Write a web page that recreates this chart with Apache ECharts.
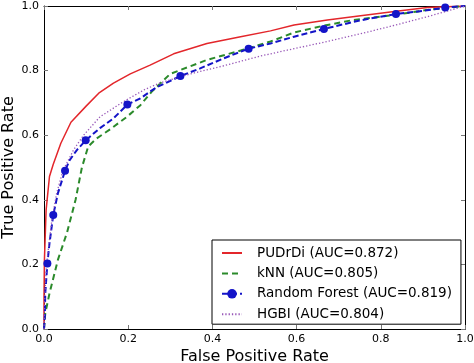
<!DOCTYPE html>
<html>
<head>
<meta charset="utf-8">
<script src="https://cdn.jsdelivr.net/npm/echarts@6/dist/echarts.min.js"></script>
<style>
html,body{margin:0;padding:0;background:#fff;}
#chart{width:474px;height:363px;}
</style>
</head>
<body>
<div id="chart"></div>
<script>
const seriesNames = ['PUDrDi (AUC=0.872)', 'kNN (AUC=0.805)', 'Random Forest (AUC=0.819)', 'HGBI (AUC=0.804)'];
const xTitle = 'False Positive Rate';
const yTitle = 'True Positive Rate';

const pudrdi = [[0,0],[0.0,0.1],[0.001,0.214],[0.005,0.368],[0.013,0.472],[0.022,0.51],[0.04,0.575],[0.064,0.64],[0.1,0.69],[0.13,0.73],[0.165,0.761],[0.205,0.79],[0.252,0.817],[0.308,0.852],[0.387,0.884],[0.467,0.905],[0.538,0.923],[0.594,0.941],[0.673,0.957],[0.752,0.97],[0.832,0.983],[0.911,0.995],[1,1]];
const knn = [[0,0],[0.003,0.048],[0.013,0.11],[0.033,0.214],[0.055,0.3],[0.075,0.4],[0.09,0.5],[0.105,0.565],[0.125,0.59],[0.157,0.618],[0.197,0.657],[0.229,0.693],[0.256,0.735],[0.3,0.79],[0.387,0.833],[0.467,0.862],[0.538,0.89],[0.594,0.918],[0.657,0.937],[0.736,0.957],[0.832,0.972],[0.911,0.988],[1,1]];
const rf = [[0,0],[0.002,0.04],[0.003,0.11],[0.008,0.203],[0.013,0.265],[0.022,0.353],[0.033,0.42],[0.05,0.49],[0.061,0.523],[0.078,0.554],[0.099,0.584],[0.133,0.622],[0.165,0.652],[0.198,0.695],[0.229,0.714],[0.252,0.735],[0.27,0.75],[0.324,0.783],[0.371,0.807],[0.427,0.838],[0.486,0.868],[0.538,0.884],[0.594,0.905],[0.665,0.929],[0.736,0.951],[0.776,0.962],[0.836,0.975],[0.9,0.985],[0.953,0.995],[1,1]];
const rfMarkerIdx = [3,5,7,10,13,17,20,23,26,28];
const hgbi = [[0,0],[0.002,0.1],[0.006,0.2],[0.018,0.33],[0.03,0.42],[0.045,0.49],[0.07,0.554],[0.094,0.6],[0.133,0.657],[0.189,0.704],[0.24,0.742],[0.276,0.762],[0.348,0.79],[0.427,0.815],[0.514,0.845],[0.594,0.868],[0.673,0.89],[0.752,0.914],[0.832,0.94],[0.911,0.967],[1,1]];

const FONT = 'DejaVu Sans';
const chart = echarts.init(document.getElementById('chart'), null, {renderer:'canvas'});

function axisBase(pos, showLabel){
  return {
    type:'value', min:0, max:1, interval:0.2, position:pos,
    axisLine:{show:true, onZero:false, lineStyle:{color:'#000', width:1}},
    axisTick:{show:true, inside:true, length:4, lineStyle:{color:'#777', width:1}},
    splitLine:{show:false},
    axisLabel:{show:showLabel, formatter:v=>v.toFixed(1), fontSize:11, fontFamily:FONT, color:'#000', margin:5}
  };
}

const xBottom = Object.assign(axisBase('bottom', true), {name:xTitle, nameLocation:'middle', nameGap:20, nameMoveOverlap:false, nameTextStyle:{fontSize:16, fontFamily:FONT, color:'#000'}});
const xTop = axisBase('top', false);
const yLeft = Object.assign(axisBase('left', true), {name:yTitle, nameLocation:'middle', nameGap:27, nameMoveOverlap:false, nameTextStyle:{fontSize:16, fontFamily:FONT, color:'#000'}});
const yRight = axisBase('right', false);

const legendData = seriesNames.map((n,i)=> i===2 ? {name:n} : {name:n, itemStyle:{opacity:0}});

const option = {
  animation:false,
  backgroundColor:'#fff',
  grid:{left:44, right:9, top:6, bottom:34, containLabel:false, outerBoundsMode:'none'},
  xAxis:[xBottom, xTop],
  yAxis:[yLeft, yRight],
  legend:{
    orient:'vertical', left:212, top:240,
    padding:[6,9,3,9], itemWidth:20, itemHeight:12, itemGap:6.4,
    borderColor:'#000', borderWidth:1, borderRadius:0, backgroundColor:'#fff',
    textStyle:{fontSize:13.5, fontFamily:FONT, color:'#000', padding:[0,0,0,10]},
    data:legendData
  },
  series:[
    {name:seriesNames[0], type:'line', data:pudrdi, symbol:'none', showSymbol:false,
     lineStyle:{color:'#e3262b', width:1.5}, itemStyle:{color:'#e3262b'}},
    {name:seriesNames[1], type:'line', data:knn, symbol:'none', showSymbol:false,
     lineStyle:{color:'#2b8a2b', width:2, type:[6,4]}, itemStyle:{color:'#2b8a2b'}},
    {name:seriesNames[2], type:'line', symbol:'circle', symbolSize:8, showAllSymbol:true,
     data:rf.map((p,i)=> rfMarkerIdx.indexOf(i)>=0 ? {value:p} : {value:p, symbol:'none'}),
     lineStyle:{color:'#1414c8', width:2, type:[6,3]}, itemStyle:{color:'#1414c8'}},
    {name:seriesNames[3], type:'line', data:hgbi, symbol:'none', showSymbol:false,
     lineStyle:{color:'#9858b8', width:1.3, type:[1.3,2]}, itemStyle:{color:'#9858b8'}}
  ]
};
chart.setOption(option);
</script>
</body>
</html>
